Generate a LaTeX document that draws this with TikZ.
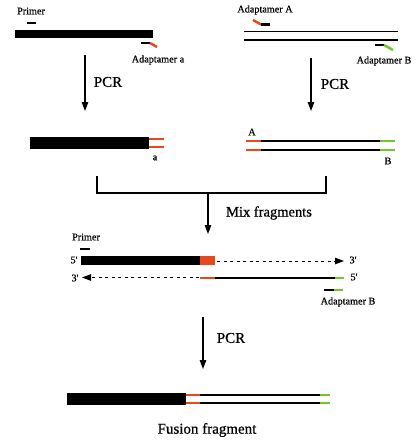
\documentclass[tikz,border=0pt]{standalone}
\usepackage{fontspec}
\setmainfont{Liberation Serif}
\newfontfamily\semibold[FakeBold=0.7]{Liberation Serif}
\usetikzlibrary{arrows.meta}
\definecolor{ored}{RGB}{232,72,30}
\definecolor{lgreen}{RGB}{112,200,40}
\begin{document}
\begin{tikzpicture}[x=1pt,y=-1pt,
  lbl/.style={font=\semibold\fontsize{10.2}{11}\selectfont, inner sep=0pt},
  big/.style={font=\semibold\fontsize{15}{16}\selectfont, inner sep=0pt},
  mid/.style={font=\semibold\fontsize{14.5}{15}\selectfont, inner sep=0pt},
  strand/.style={line width=2pt},
  prim/.style={line width=2.5pt},
  arr/.style={line width=1.1pt, -{Triangle[length=9pt,width=6.5pt]}},
  darr/.style={line width=1pt, dash pattern=on 3pt off 3.5pt, -{Triangle[length=9pt,width=6.5pt]}}]
\useasboundingbox (0,0) rectangle (419,440);

% ---------- top left ----------
\node[lbl] (tprimer) at (31,11) {Primer};
\draw[prim] (27,23) -- (36,23);
\fill (15,30) rectangle (153,38);
\draw[prim] (141,43) -- (150,43);
\draw[prim, ored] (150,43) -- (157,47);
\node[lbl] (tada) at (158,60) {Adaptamer a};

% ---------- top right ----------
\node[lbl] (tadA) at (265,10) {Adaptamer A};
\draw[prim, ored] (253,20) -- (261,24.5);
\draw[prim] (261,24.5) -- (270,24.5);
\draw[line width=1.6pt] (244,31.5) -- (398,31.5);
\draw[line width=1.6pt] (244,40) -- (398,40);
\draw[prim] (375,45) -- (384,45);
\draw[prim, lgreen] (384,45) -- (393,50);
\node[lbl] (tadB) at (384,61) {Adaptamer B};

% ---------- PCR arrows ----------
\coordinate (p1s) at (85,55);
\coordinate (p1e) at (85,111);
\draw[arr] (p1s) -- (p1e);
\node[big] (pcr1) at (108,82) {PCR};
\coordinate (p2s) at (311,58);
\coordinate (p2e) at (311,111);
\draw[arr] (p2s) -- (p2e);
\node[big] (pcr2) at (335,84) {PCR};

% ---------- second row ----------
\fill (30,137) rectangle (149,149);
\draw[strand, ored] (149,139) -- (164,139);
\draw[strand, ored] (149,147) -- (164,147);
\node[lbl] (la) at (155,158) {a};

\node[lbl] (lA) at (252,132) {A};
\foreach \yy in {141,150}{
  \draw[strand, ored] (246,\yy) -- (261,\yy);
  \draw[strand] (261,\yy) -- (380,\yy);
  \draw[strand, lgreen] (380,\yy) -- (395,\yy);
}
\node[lbl] (lB) at (388,161) {B};

% ---------- bracket ----------
\coordinate (bl) at (97,176);
\coordinate (br) at (326,176);
\coordinate (bm) at (208,193);
\coordinate (be) at (208,234);
\draw[line width=1.1pt] (bl) |- (br |- bm) -- (br);
\draw[arr] (bm) -- (be);
\node[mid] (mix) at (269,213) {Mix fragments};

% ---------- mix row ----------
\node[lbl] (mprimer) at (86,237) {Primer};
\draw[prim] (80,249) -- (90,249);
\node[lbl] (m5a) at (74,260) {5'};
\fill (81,256) rectangle (200,265);
\fill[ored] (200,256) rectangle (215,265);
\coordinate (d1s) at (217,261);
\coordinate (d1e) at (344,261);
\draw[darr] (d1s) -- (d1e);
\node[lbl] (m3a) at (353,260) {3'};

\node[lbl] (m3b) at (75,278) {3'};
\coordinate (d2s) at (199,277.5);
\coordinate (d2e) at (82,277.5);
\draw[darr] (d2s) -- (d2e);
\draw[strand, ored] (200,277.5) -- (215,277.5);
\draw[strand] (215,277.5) -- (335,277.5);
\draw[strand, lgreen] (335,277.5) -- (344,277.5);
\node[lbl] (m5b) at (354,277) {5'};
\draw[prim] (324,290) -- (334,290);
\draw[prim, lgreen] (334,290) -- (343,290);
\node[lbl] (madB) at (348,302) {Adaptamer B};

% ---------- PCR arrow ----------
\coordinate (p3s) at (203,317);
\coordinate (p3e) at (203,369);
\draw[arr] (p3s) -- (p3e);
\node[big] (pcr3) at (231,338) {PCR};

% ---------- fusion fragment ----------
\fill (67,393) rectangle (186,405);
\foreach \yy in {395,403}{
  \draw[strand, ored] (186,\yy) -- (200,\yy);
  \draw[strand] (200,\yy) -- (320,\yy);
  \draw[strand, lgreen] (320,\yy) -- (330,\yy);
}
\node[mid, font=\semibold\fontsize{15}{16}\selectfont] (fus) at (207,430) {Fusion fragment};
\end{tikzpicture}
\end{document}
